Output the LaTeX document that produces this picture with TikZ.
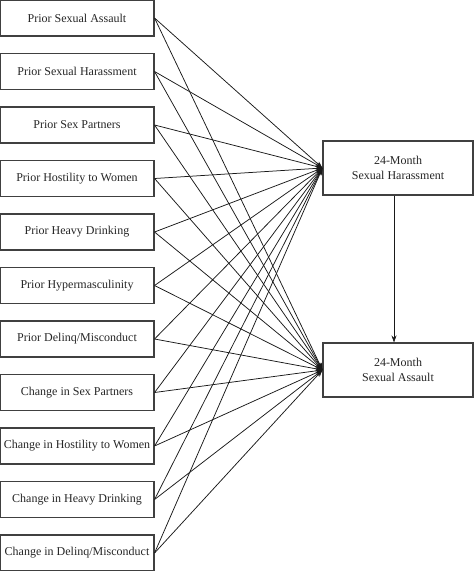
\documentclass[tikz,border=0pt]{standalone}
\usepackage{fontspec}
\setmainfont{Liberation Serif}
\usetikzlibrary{arrows.meta}
\begin{document}
\begin{tikzpicture}[x=1pt,y=-1pt,
  lbox/.style={draw=black!75,line width=1.1pt,minimum width=154pt,minimum height=36pt,inner sep=0pt,font=\fontsize{12}{14.5}\selectfont,text=black!85},
  rbox/.style={draw=black!75,line width=1.1pt,minimum width=150pt,minimum height=54pt,inner sep=0pt,align=center,font=\fontsize{12}{14.5}\selectfont,text=black!85},
  conn/.style={draw=black!90,line width=0.75pt,-{Stealth[length=7pt,width=5pt]}}]
\useasboundingbox (0,0) rectangle (474,571);
\node[lbox] (b1) at (77,18) {Prior Sexual Assault};
\node[lbox] (b2) at (77,71.5) {Prior Sexual Harassment};
\node[lbox] (b3) at (77,125) {Prior Sex Partners};
\node[lbox] (b4) at (77,178.5) {Prior Hostility to Women};
\node[lbox] (b5) at (77,232) {Prior Heavy Drinking};
\node[lbox] (b6) at (77,285.5) {Prior Hypermasculinity};
\node[lbox] (b7) at (77,339) {Prior Delinq/Misconduct};
\node[lbox] (b8) at (77,392.5) {Change in Sex Partners};
\node[lbox] (b9) at (77,446) {Change in Hostility to Women};
\node[lbox] (b10) at (77,499.5) {Change in Heavy Drinking};
\node[lbox] (b11) at (77,553) {Change in Delinq/Misconduct};
\node[rbox] (H) at (398,168) {24-Month\\Sexual Harassment};
\node[rbox] (A) at (398,370) {24-Month\\Sexual Assault};
\foreach \i in {1,...,11}{
  \draw[conn] (b\i.east) -- (H.west);
  \draw[conn] (b\i.east) -- (A.west);
}
\draw[conn] ([xshift=-4pt]H.south) -- ([xshift=-4pt]A.north);
\end{tikzpicture}
\end{document}
